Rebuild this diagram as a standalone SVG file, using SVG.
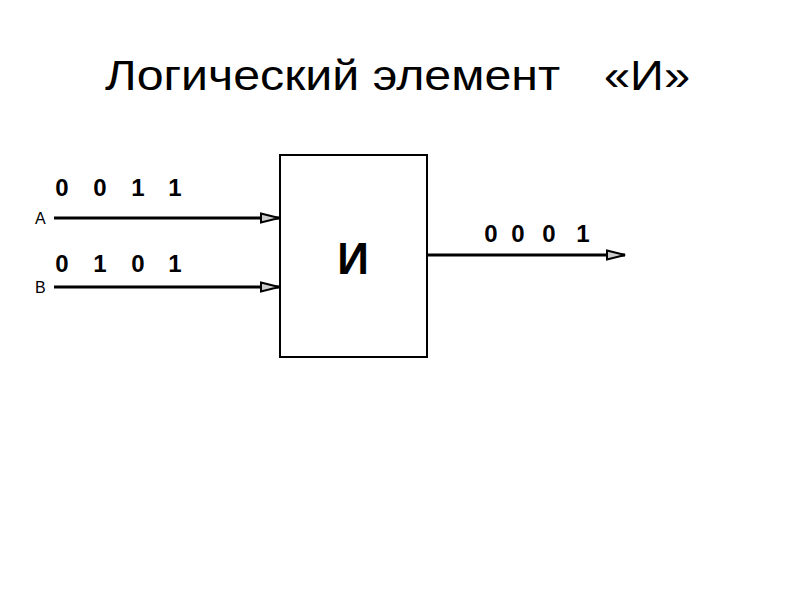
<svg xmlns="http://www.w3.org/2000/svg" width="800" height="600" viewBox="0 0 800 600">
<style>
text{font-family:"Liberation Sans",Arial,sans-serif;fill:#000}
.w{stroke:#000;stroke-width:3;fill:none}
.b{font-weight:bold;font-size:24px;text-anchor:middle}
</style>
<defs>
<marker id="ah" viewBox="0 0 20 12" refX="19" refY="6" markerWidth="20" markerHeight="12" markerUnits="userSpaceOnUse" orient="auto">
<path d="M1,1.5 L19,6 L1,10.5 Z" fill="#ccc" stroke="#000" stroke-width="2"/>
</marker>
</defs>
<rect width="800" height="600" fill="#fff"/>
<text x="105" y="90" font-size="42" textLength="455" lengthAdjust="spacingAndGlyphs">Логический элемент</text>
<text x="604" y="90" font-size="42" textLength="86" lengthAdjust="spacingAndGlyphs">«И»</text>
<g id="and">
<rect x="280" y="155" width="147" height="202" fill="#fff" stroke="#000" stroke-width="2"/>
<text x="353" y="274" font-size="44" font-weight="bold" text-anchor="middle">И</text>
</g>
<g id="inA"><text x="35" y="224" font-size="16">A</text><text class="b" y="196"><tspan x="62">0</tspan><tspan x="100">0</tspan><tspan x="138">1</tspan><tspan x="175">1</tspan></text></g>
<g id="inB"><text x="35" y="293" font-size="16">B</text><text class="b" y="272"><tspan x="62">0</tspan><tspan x="100">1</tspan><tspan x="138">0</tspan><tspan x="175">1</tspan></text></g>
<g id="out"><text class="b" y="242"><tspan x="491">0</tspan><tspan x="518">0</tspan><tspan x="549">0</tspan><tspan x="583">1</tspan></text></g>
<g id="connectors">
<line class="w" x1="54" y1="218" x2="279" y2="218" marker-end="url(#ah)"/>
<line class="w" x1="54" y1="287" x2="279" y2="287" marker-end="url(#ah)"/>
<line class="w" x1="427" y1="255" x2="625" y2="255" marker-end="url(#ah)"/>
</g>
</svg>
